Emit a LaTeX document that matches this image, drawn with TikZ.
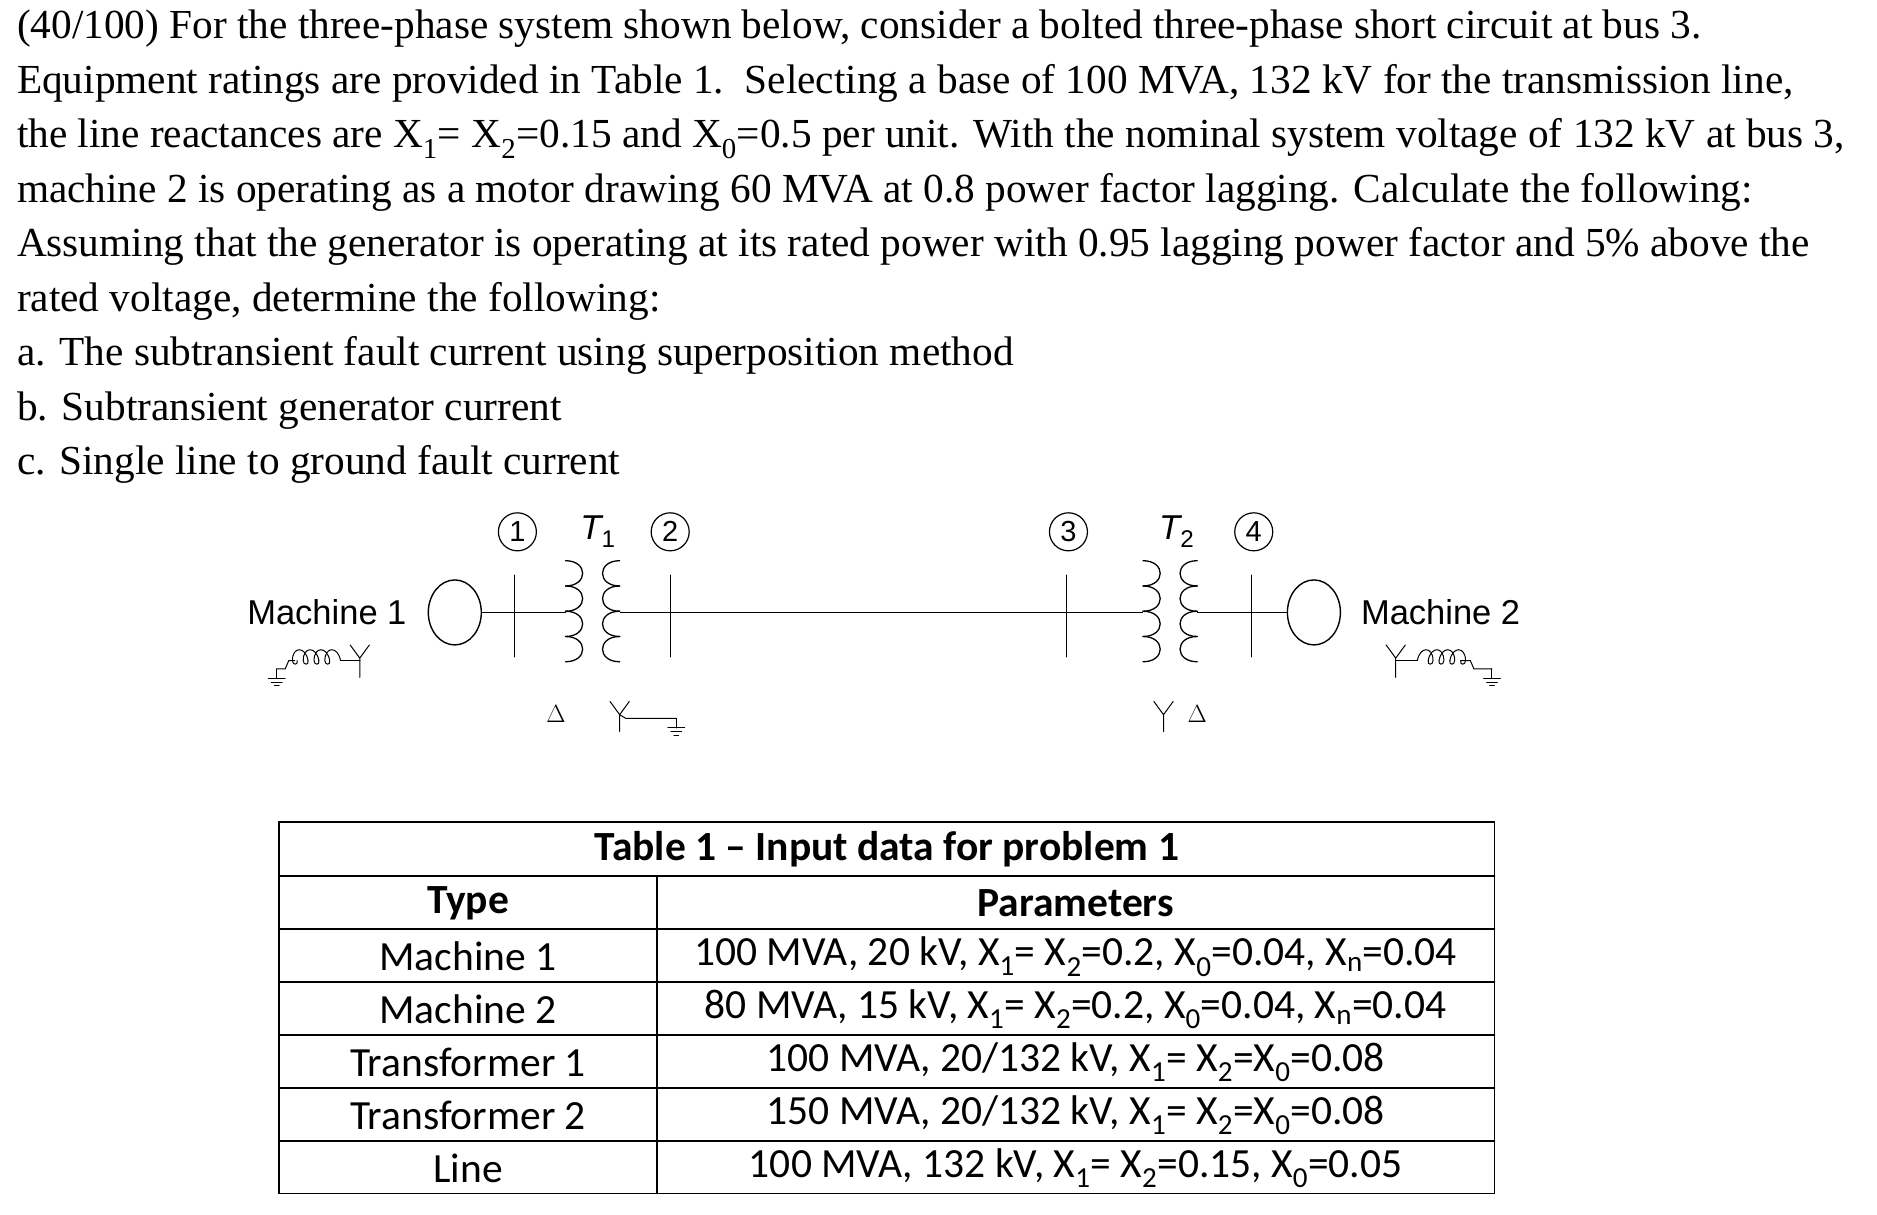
\documentclass[tikz,border=0pt]{standalone}
\usepackage{fontspec}
\usetikzlibrary{shapes.geometric}
\setmainfont{Liberation Serif}
\newfontfamily\sansf{Liberation Sans}
\newfontfamily\calib{Carlito}
\begin{document}
\begin{tikzpicture}[x=1.2032pt,y=-1.2032pt,line cap=round,
  txt/.style={anchor=base west,inner sep=0pt,font=\fontsize{41.3}{45}\selectfont},
  bus/.style={circle,draw,line width=1.2pt,minimum size=38pt,inner sep=0pt,font=\sansf\fontsize{29}{30}\selectfont},
  mach/.style={ellipse,draw,line width=1.4pt,minimum width=53pt,minimum height=65pt,inner sep=0pt},
  lbl/.style={font=\sansf\fontsize{34.5}{36}\selectfont,inner sep=0pt},
  tab/.style={font=\calib\fontsize{41.5}{44}\selectfont,inner sep=0pt},
  tabb/.style={font=\calib\bfseries\fontsize{41.5}{44}\selectfont,inner sep=0pt},
  wire/.style={line width=1.3pt},
  thin/.style={line width=1pt},
  gnd/.pic={\draw[thin] (0,0)--(0,8) (-7,8)--(7,8) (-4.5,11)--(4.5,11) (-2,14)--(2,14);}]
\useasboundingbox (0,0) rectangle (1560,1009);
% text
\foreach \t [count=\i from 0] in {%
{(40/100) For the three-phase system shown below, consider a bolted three-phase short circuit at bus 3.},
{Equipment ratings are provided in Table 1.\ \ Selecting a base of 100 MVA, 132 kV for the transmission line,},
{the line reactances are X\textsubscript{1}= X\textsubscript{2}=0.15 and X\textsubscript{0}=0.5 per unit. With the nominal system voltage of 132 kV at bus 3,},
{machine 2 is operating as a motor drawing 60 MVA at 0.8 power factor lagging. Calculate the following:},
{Assuming that the generator is operating at its rated power with 0.95 lagging power factor and 5\% above the},
{rated voltage, determine the following:},
{a. The subtransient fault current using superposition method},
{b. Subtransient generator current},
{c. Single line to ground fault current}}
  \node[txt] (l\i) at (14,{32+45.3*\i}) {\t};
% diagram
\node[mach] (m1) at (378,509) {};
\node[mach] (m2) at (1092,509) {};
\coordinate (b1t) at (428,478); \coordinate (b1b) at (428,546);
\coordinate (b2t) at (557,478); \coordinate (b2b) at (557,546);
\coordinate (b3t) at (886,478); \coordinate (b3b) at (886,546);
\coordinate (b4t) at (1040,478); \coordinate (b4b) at (1040,546);
\draw[thin] (b1t)--(b1b) (b2t)--(b2b) (b3t)--(b3b) (b4t)--(b4b);
\draw[wire] (m1.east)--(m2.west);
% transformer coils
\foreach \cx in {470,950}{
  \fill[white] (\cx,466) rectangle (\cx+45,550);
  \foreach \k in {0,1,2,3}{
    \draw[wire] (\cx,{466+21*\k}) .. controls (\cx+19,{466+21*\k}) and (\cx+19,{487+21*\k}) .. (\cx,{487+21*\k});
    \draw[wire] (\cx+45,{466+21*\k}) .. controls (\cx+26,{466+21*\k}) and (\cx+26,{487+21*\k}) .. (\cx+45,{487+21*\k});
  }
}
\node[bus] (n1) at (430,442) {1};
\node[bus] (n2) at (557,442) {2};
\node[bus] (n3) at (888,442) {3};
\node[bus] (n4) at (1042,442) {4};
\node[lbl] (t1) at (497,442) {\itshape T\textsubscript{\upshape 1}};
\node[lbl] (t2) at (978,442) {\itshape T\textsubscript{\upshape 2}};
\node[lbl,anchor=east] (ml1) at (338,509) {Machine 1};
\node[lbl,anchor=west] (ml2) at (1131,509) {Machine 2};
% machine 1 neutral
\draw[thin] (299,563)--(299,547)--(291,536) (299,547)--(307,536);
\draw[thin] (299,549)--(283,549);
\foreach \k in {0,1,2,3}{\draw[thin] ({283-9*\k},549) .. controls ({281-9*\k},537) and ({270-9*\k},537) .. ({270-9*\k},549) .. controls ({270-9*\k},553) and ({275-9*\k},553) .. ({274-9*\k},549);}
\draw[thin] (245,549)--(240,549)--(237,556)--(230,556);
\pic at (230,556) {gnd};
% machine 2 neutral
\draw[thin] (1160,563)--(1160,547)--(1152,536) (1160,547)--(1168,536);
\draw[thin] (1160,549)--(1178,549);
\foreach \k in {0,1,2,3}{\draw[thin] ({1178+9*\k},549) .. controls ({1180+9*\k},537) and ({1191+9*\k},537) .. ({1191+9*\k},549) .. controls ({1191+9*\k},553) and ({1186+9*\k},553) .. ({1187+9*\k},549);}
\draw[thin] (1214,549)--(1222,549)--(1225,556)--(1240,556);
\pic at (1240,556) {gnd};
% transformer connection symbols
\node[lbl] (d1) at (462,593) {$\Delta$};
\draw[thin] (515,608)--(515,594)--(507,583) (515,594)--(523,583);
\draw[thin] (515,594)--(520,597)--(562,597);
\pic at (562,597) {gnd};
\draw[thin] (967,608)--(967,594)--(959,583) (967,594)--(975,583);
\node[lbl] (d2) at (995,593) {$\Delta$};
% table
\draw[line width=1.8pt] (232,683) rectangle (1242,992);
\foreach \y in {728,772,816,860,904,948}{\draw[line width=1.8pt] (232,\y)--(1242,\y);}
\draw[line width=1.5pt] (546,728)--(546,992);
\node[tabb] (tt) at (737,706) {Table 1 \textendash\ Input data for problem 1};
\node[tabb] (h1) at (389,751) {Type};
\node[tabb] (h2) at (894,751) {Parameters};
\foreach \a/\b [count=\i from 0] in {
 Machine 1/{100 MVA, 20 kV, X\textsubscript{1}= X\textsubscript{2}=0.2, X\textsubscript{0}=0.04, X\textsubscript{n}=0.04},
 Machine 2/{80 MVA, 15 kV, X\textsubscript{1}= X\textsubscript{2}=0.2, X\textsubscript{0}=0.04, X\textsubscript{n}=0.04},
 Transformer 1/{100 MVA, 20/132 kV, X\textsubscript{1}= X\textsubscript{2}=X\textsubscript{0}=0.08},
 Transformer 2/{150 MVA, 20/132 kV, X\textsubscript{1}= X\textsubscript{2}=X\textsubscript{0}=0.08},
 Line/{100 MVA, 132 kV, X\textsubscript{1}= X\textsubscript{2}=0.15, X\textsubscript{0}=0.05}}{
  \node[tab] (a\i) at (389,{795+44*\i}) {\a};
  \node[tab] (p\i) at (894,{795+44*\i}) {\b};
}
\end{tikzpicture}
\end{document}
